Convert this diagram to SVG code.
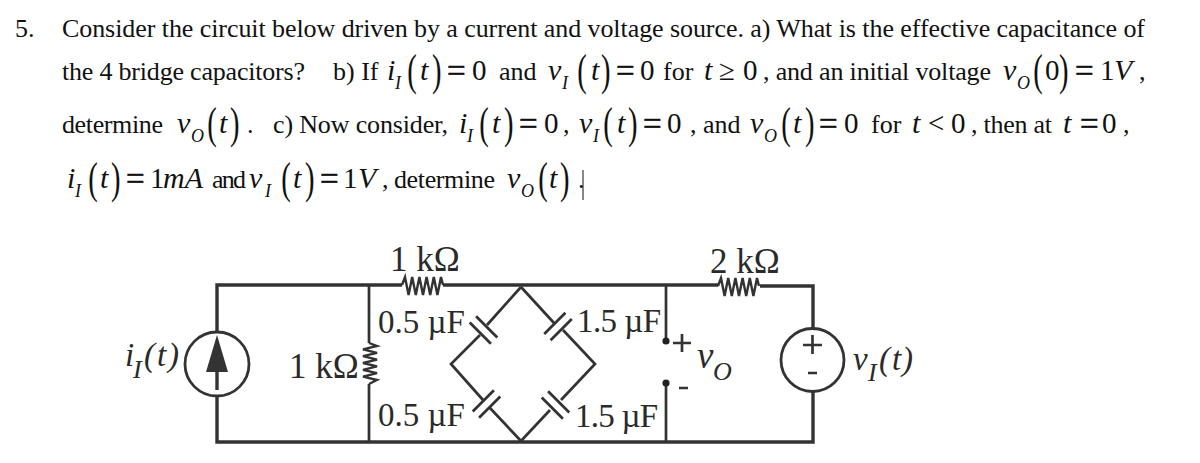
<svg xmlns="http://www.w3.org/2000/svg" xmlns:xlink="http://www.w3.org/1999/xlink" width="1200" height="463" viewBox="0 0 1200 463">
<style>
text{font-family:"Liberation Serif",serif;fill:#111}
.t{font-size:26px}
.m{font-size:30px;font-style:italic}
.s{font-size:18px;font-style:italic}
.n{font-size:29px}
.e{font-size:33px;stroke:#111;stroke-width:.6}
.p{font-size:44px;font-weight:normal}
.l{font-size:33px;fill:#2a2a2a}
.k{font-size:35px;fill:#2a2a2a}
.li{font-size:33px;font-style:italic;fill:#2a2a2a}
.lv{font-size:37px;font-style:italic;fill:#2a2a2a}
.ls{font-size:26px;font-style:italic;fill:#2a2a2a}
.w{fill:none;stroke:#333;stroke-width:3.4}
.w2{fill:none;stroke:#333;stroke-width:2.7}
.r{fill:none;stroke:#333;stroke-width:2.4;stroke-linejoin:miter}
.c{fill:#fff;stroke:#333;stroke-width:2.8}
</style>
<defs>
<g id="cap"><path class="w2" d="M-4.500-15V15M4.500-15V15"/></g>
</defs>
<rect width="1200" height="463" fill="#fff"/>
<g id="question">
<text class="t" x="15" y="37">5.</text>
<text class="t" x="62" y="37" textLength="1083">Consider the circuit below driven by a current and voltage source.  a) What is the effective capacitance of</text>
<text class="t" x="62" y="80" textLength="243">the 4 bridge capacitors?</text>
<text class="t" x="333" y="80">b) If</text>
<text class="m" x="387" y="80">i</text><text class="s" x="395" y="89">I</text>
<text class="p" transform="translate(407.300 85) scale(.65 1)">(</text><text class="m" x="420" y="80">t</text><text class="p" transform="translate(432 85) scale(.65 1)">)</text>
<text class="e" x="447" y="82">=</text><text class="n" x="472" y="80">0</text>
<text class="t" x="499" y="80">and</text>
<text class="m" x="548" y="80">v</text><text class="s" x="562" y="89">I</text>
<text class="p" transform="translate(577.300 85) scale(.65 1)">(</text><text class="m" x="591" y="80">t</text><text class="p" transform="translate(601 85) scale(.65 1)">)</text>
<text class="e" x="616" y="82">=</text><text class="n" x="640" y="80">0</text>
<text class="t" x="663" y="80">for</text>
<text class="m" x="704" y="80">t</text><text class="n" x="719" y="80">≥</text><text class="n" x="743" y="80">0</text>
<text class="t" x="763" y="80" textLength="228">, and an initial voltage</text>
<text class="m" x="1003" y="80">v</text><text class="s" x="1017" y="89">O</text>
<text class="p" transform="translate(1033.300 85) scale(.65 1)">(</text><text class="n" x="1045" y="80">0</text><text class="p" transform="translate(1059 85) scale(.65 1)">)</text>
<text class="e" x="1075" y="82">=</text><text class="n" x="1100" y="80">1</text><text class="m" x="1114" y="80">V</text><text class="t" x="1139" y="80">,</text>

<text class="t" x="62" y="133" textLength="101">determine</text>
<text class="m" x="177" y="133">v</text><text class="s" x="191" y="142">O</text>
<text class="p" transform="translate(207.300 138) scale(.65 1)">(</text><text class="m" x="219" y="133">t</text><text class="p" transform="translate(230 138) scale(.65 1)">)</text>
<text class="t" x="247" y="133">.</text>
<text class="t" x="273" y="133" textLength="175">c) Now consider,</text>
<text class="m" x="459" y="133">i</text><text class="s" x="467" y="142">I</text>
<text class="p" transform="translate(479.300 138) scale(.65 1)">(</text><text class="m" x="492" y="133">t</text><text class="p" transform="translate(504 138) scale(.65 1)">)</text>
<text class="e" x="519" y="135">=</text><text class="n" x="544" y="133">0</text><text class="t" x="563" y="133">,</text>
<text class="m" x="579" y="133">v</text><text class="s" x="593" y="142">I</text>
<text class="p" transform="translate(603.300 138) scale(.65 1)">(</text><text class="m" x="617" y="133">t</text><text class="p" transform="translate(628 138) scale(.65 1)">)</text>
<text class="e" x="643" y="135">=</text><text class="n" x="667" y="133">0</text><text class="t" x="690" y="133">,</text>
<text class="t" x="703" y="133">and</text>
<text class="m" x="750" y="133">v</text><text class="s" x="764" y="142">O</text>
<text class="p" transform="translate(781.300 138) scale(.65 1)">(</text><text class="m" x="793" y="133">t</text><text class="p" transform="translate(805 138) scale(.65 1)">)</text>
<text class="e" x="819" y="135">=</text><text class="n" x="844" y="133">0</text>
<text class="t" x="871" y="133">for</text>
<text class="m" x="912" y="133">t</text><text class="n" x="928" y="133">&lt;</text><text class="n" x="951" y="133">0</text>
<text class="t" x="971" y="133" textLength="81">, then at</text>
<text class="m" x="1063" y="133">t</text><text class="e" x="1080" y="135">=</text><text class="n" x="1102" y="133">0</text><text class="t" x="1123" y="133">,</text>

<text class="m" x="67" y="188">i</text><text class="s" x="75" y="197">I</text>
<text class="p" transform="translate(88.300 193) scale(.65 1)">(</text><text class="m" x="100" y="188">t</text><text class="p" transform="translate(111 193) scale(.65 1)">)</text>
<text class="e" x="126" y="190">=</text><text class="n" x="150" y="188">1</text><text class="m" x="163" y="188">mA</text>
<text class="t" x="212" y="188" textLength="34">and</text>
<text class="m" x="249" y="188">v</text><text class="s" x="265" y="197">I</text>
<text class="p" transform="translate(281.300 193) scale(.65 1)">(</text><text class="m" x="293" y="188">t</text><text class="p" transform="translate(305 193) scale(.65 1)">)</text>
<text class="e" x="320" y="190">=</text><text class="n" x="343" y="188">1</text><text class="m" x="358" y="188">V</text><text class="t" x="382" y="188">,</text>
<text class="t" x="394" y="188" textLength="101">determine</text>
<text class="m" x="507" y="188">v</text><text class="s" x="521" y="197">O</text>
<text class="p" transform="translate(538.300 193) scale(.65 1)">(</text><text class="m" x="549" y="188">t</text><text class="p" transform="translate(560 193) scale(.65 1)">)</text>
<text class="t" x="578" y="188">.</text>
<path d="M583 170V200" stroke="#111" stroke-width="1" fill="none"/>
</g>
<g id="connectors">
<path class="w" d="M402 285H217V332M217 396V442H813V392M813 328V286H760"/>
<path class="w" d="M443 285H718"/>
<path class="w2" d="M369 285V343M369 384V442"/>
<path class="w2" d="M521 287L487 325M480 335L451 364L483 400M490 408L521 441L550 410M561 400L595 364L563 330M554 323L521 287" stroke-linejoin="miter"/>
<path class="w2" d="M666 285V341M666 383V442"/>
</g>
<g id="r-top"><path class="r" d="M402 285l3-8l3.600 18l3.600-18l3.600 18l3.600-18l3.600 18l3.600-18l3.600 18l3.600-18l3.600 18l3.600-18l2 8"/><text class="k" x="390" y="271">1 kΩ</text></g>
<g id="r-left"><path class="r" d="M369 343l8 3l-14 3.400l14 3.400l-14 3.400l14 3.400l-14 3.400l14 3.400l-14 3.400l14 3.400l-14 3.400l14 3.400l-8 4"/><text class="k" x="289" y="378">1 kΩ</text></g>
<g id="r-right"><path class="r" d="M718 286l3-8l3.600 18l3.600-18l3.600 18l3.600-18l3.600 18l3.600-18l3.600 18l3.600-18l3.600 18l3.600-18l2 8"/><text class="k" x="710" y="273">2 kΩ</text></g>
<g id="c1"><use xlink:href="#cap" transform="translate(483.500 330) rotate(-45)"/><text class="l" x="378" y="333">0.5 µF</text></g>
<g id="c2"><use xlink:href="#cap" transform="translate(486.500 404) rotate(45)"/><text class="l" x="378" y="426">0.5 µF</text></g>
<g id="c3"><use xlink:href="#cap" transform="translate(558 326.500) rotate(45)"/><text class="l" x="577" y="332" textLength="84">1.5 µF</text></g>
<g id="c4"><use xlink:href="#cap" transform="translate(555.500 405) rotate(-45)"/><text class="l" x="575" y="427" textLength="83">1.5 µF</text></g>
<g id="current-source">
<circle class="c" cx="217" cy="364" r="32"/>
<path d="M217 335L228 372H206Z" fill="#333"/><path class="w" d="M217 372V390"/>
<text class="li" x="125" y="366">i</text><text class="ls" x="133" y="378">I</text><text class="li" x="144" y="366">(</text><text class="li" x="157" y="366">t</text><text class="li" x="168" y="366">)</text>
</g>
<g id="voltage-source">
<circle class="c" cx="812.500" cy="360" r="31.500"/>
<path class="w2" d="M803 345H822M812.500 335V354M808 373H817"/>
<text class="li" x="853" y="370">v</text><text class="ls" x="868" y="381">I</text><text class="li" x="879" y="370">(</text><text class="li" x="892" y="370">t</text><text class="li" x="902" y="370">)</text>
</g>
<g id="output">
<circle cx="666" cy="341" r="3.600" fill="#222"/><circle cx="666" cy="383" r="3.600" fill="#222"/>
<path class="w2" d="M673 343H691M682 334V352M679 388H688"/>
<text class="lv" x="697" y="368">v</text><text class="ls" x="713" y="380">O</text>
</g>
</svg>
